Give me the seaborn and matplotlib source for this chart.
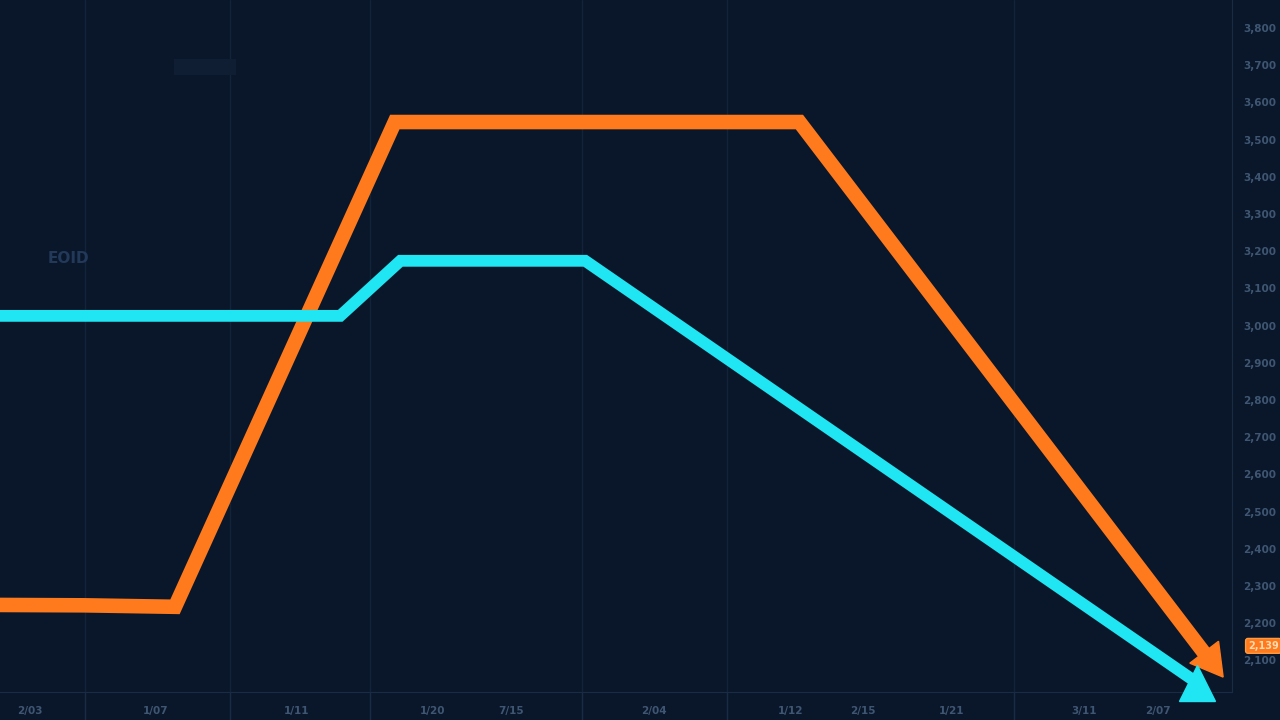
import matplotlib.pyplot as plt
import seaborn as sns
import numpy as np
import pandas as pd

# series values (x in time units, y in price units)
orange_x = [0.0, 6.0, 12.5, 28.2, 57.1, 86.4]
orange_y = [2249, 2248, 2244, 3547, 3547, 2101]
cyan_x = [0.0, 24.3, 28.6, 41.8, 85.5]
cyan_y = [3026, 3026, 3174, 3174, 2040]

# axis labels
x_tick_pos = [2.1, 11.1, 21.2, 30.9, 36.5, 46.7, 56.5, 61.6, 68.0, 77.4, 82.7]
x_tick_labels = ["2/03", "1/07", "1/11", "1/20", "7/15", "2/04",
                 "1/12", "2/15", "1/21", "3/11", "2/07"]
y_ticks = list(range(2100, 3900, 100))
y_tick_labels = [f"{v:,}" for v in y_ticks]
separators = [6.1, 16.4, 26.4, 41.6, 51.9, 72.4]
last_price = 2139
last_label = "2,139"

BG = "#0a172a"
ORANGE = "#ff7a1c"
CYAN = "#1fe6f2"
DIM = "#3f5672"

df = pd.concat([
    pd.DataFrame({"t": orange_x, "price": orange_y, "series": "A"}),
    pd.DataFrame({"t": cyan_x, "price": cyan_y, "series": "B"}),
])

sns.set_style("dark")
fig = plt.figure(figsize=(12.8, 7.2), dpi=100, facecolor=BG)
ax = fig.add_axes([0, 28 / 720, 1232 / 1280, 692 / 720])
ax.set_facecolor(BG)

# faint column separators
for s in separators:
    ax.axvline(s, color="#12233a", lw=1, zorder=0)

sns.lineplot(data=df[df.series == "A"], x="t", y="price", color=ORANGE,
             lw=10.5, sort=False, ax=ax, solid_joinstyle="miter", zorder=3)
sns.lineplot(data=df[df.series == "B"], x="t", y="price", color=CYAN,
             lw=8.5, sort=False, ax=ax, solid_joinstyle="miter", zorder=4)

ax.set_xlim(0, 88)
ax.set_ylim(2015, 3875)

# arrowheads: orient the orange triangle along its last segment (screen space)
p0 = ax.transData.transform((orange_x[-2], orange_y[-2]))
p1 = ax.transData.transform((orange_x[-1], orange_y[-1]))
ang = np.degrees(np.arctan2(p1[1] - p0[1], p1[0] - p0[0]))
ax.plot([orange_x[-1]], [orange_y[-1]], marker=(3, 0, ang - 90), ms=30,
        color=ORANGE, zorder=5, clip_on=False)
ax.plot([cyan_x[-1]], [cyan_y[-1]], marker="^", ms=26, color=CYAN, zorder=6,
        clip_on=False)

ax.set_xlabel("")
ax.set_ylabel("")
ax.yaxis.tick_right()
ax.set_yticks(y_ticks)
ax.set_yticklabels(y_tick_labels)
ax.set_xticks(x_tick_pos)
ax.set_xticklabels(x_tick_labels)
ax.tick_params(axis="y", colors=DIM, labelsize=7.5, length=0, pad=8)
ax.tick_params(axis="x", colors=DIM, labelsize=7.5, length=0, pad=10)
for lbl in ax.get_yticklabels() + ax.get_xticklabels():
    lbl.set_fontweight("bold")
ax.grid(False)
for side in ["top", "left"]:
    ax.spines[side].set_visible(False)
ax.spines["right"].set_color("#1a2c44")
ax.spines["bottom"].set_color("#1a2c44")

# bottom strip separators
for s in separators:
    ax.plot([s, s], [-0.045, 0], transform=ax.get_xaxis_transform(),
            color="#1a2c44", lw=1, clip_on=False)

# faint decorations
ax.text(68 / 14, 3180, "EOID", color="#22395a", fontsize=11, ha="center",
        va="center", fontweight="bold")
ax.text(205 / 14, 3695, "                ", fontsize=8, ha="center", va="center",
        bbox=dict(boxstyle="square,pad=0.3", fc="#0f1e33", ec="none"))
ax.text(1.013, last_price, last_label, transform=ax.get_yaxis_transform(),
        color="#ffd9b0", fontsize=7, ha="left", va="center", fontweight="bold",
        bbox=dict(boxstyle="round,pad=0.25", fc=ORANGE, ec="#ff9a40"),
        clip_on=False)

fig.savefig("out.png", dpi=100, facecolor=BG)
